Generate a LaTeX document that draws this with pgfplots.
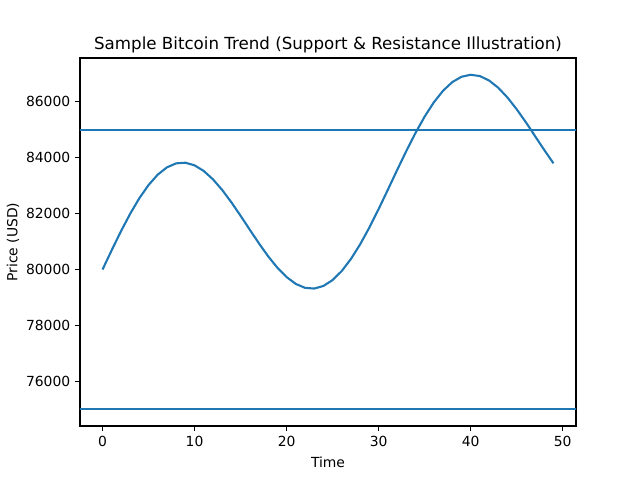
\documentclass[border=0pt]{standalone}
\usepackage{pgfplots}
\pgfplotsset{compat=1.18}
\usepackage{fontspec}
\setmainfont{DejaVu Sans}
\definecolor{tabblue}{HTML}{1F77B4}
\begin{document}
\begin{tikzpicture}
\begin{axis}[
  scale only axis,
  width=357.12pt, height=264.96pt,
  xmin=-2.45, xmax=51.45,
  ymin=74402, ymax=87568,
  xtick={0,10,20,30,40,50},
  ytick={76000,78000,80000,82000,84000,86000},
  xtick pos=bottom, ytick pos=left,
  tick align=outside,
  major tick length=3.5pt,
  tick style={black, line width=0.8pt},
  axis line style={line width=0.8pt},
  /pgf/number format/assume math mode=true,
  /pgf/number format/1000 sep={},
  scaled y ticks=false,
  ticklabel style={font=\fontsize{10}{12}\selectfont},
  xticklabel style={yshift=-0.5pt},
  title={Sample Bitcoin Trend (Support \& Resistance Illustration)},
  title style={font=\fontsize{12}{14}\selectfont, yshift=-6pt},
  xlabel={Time},
  ylabel={Price (USD)},
  label style={font=\fontsize{10}{12}\selectfont},
  xlabel style={yshift=0pt},
  ylabel style={yshift=-2pt},
  clip=true,
]
\addplot[tabblue, line width=1.5pt] coordinates {
(0,80000) (1,80696) (2,81368) (3,81994) (4,82552) (5,83024) (6,83396) (7,83656) (8,83799) (9,83822)
(10,83728) (11,83526) (12,83226) (13,82847) (14,82405) (15,81923) (16,81425) (17,80933) (18,80472) (19,80064)
(20,79730) (21,79485) (22,79345) (23,79319) (24,79412) (25,79623) (26,79950) (27,80382) (28,80906) (29,81506)
(30,82162) (31,82851) (32,83550) (33,84235) (34,84882) (35,85471) (36,85981) (37,86396) (38,86704) (39,86896)
(40,86968) (41,86922) (42,86764) (43,86504) (44,86155) (45,85736) (46,85269) (47,84774) (48,84277) (49,83801)
};
\addplot[tabblue, line width=1.5pt] coordinates {(-10,85000) (60,85000)};
\addplot[tabblue, line width=1.5pt] coordinates {(-10,75000) (60,75000)};
\end{axis}
\path[use as bounding box] ([xshift=-57.6pt,yshift=-38.88pt]current axis.south west) rectangle ([xshift=46.08pt,yshift=41.76pt]current axis.north east);
\end{tikzpicture}
\end{document}
